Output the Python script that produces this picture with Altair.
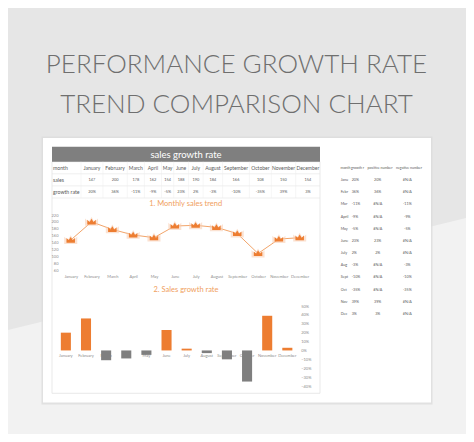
import altair as alt
import pandas as pd

# ---------------- data ----------------
months = ["January", "February", "March", "April", "May", "June", "July",
          "August", "September", "October", "November", "December"]
sales = [147, 200, 178, 162, 154, 188, 190, 184, 166, 108, 150, 154]
growth = [0.20, 0.36, -0.11, -0.09, -0.05, 0.23, 0.02, -0.03, -0.10, -0.35, 0.39, 0.03]
sales_ticks = [60, 80, 100, 120, 140, 160, 180, 200, 220]
growth_ticks = [-0.4, -0.3, -0.2, -0.1, 0.0, 0.1, 0.2, 0.3, 0.4, 0.5]
row_labels = ["month", "sales", "growth rate"]
side_headers = ["month", "growth rate", "positive number", "negative number"]
title_lines = ["PERFORMANCE GROWTH RATE", "TREND COMPARISON CHART"]
table_title = "sales growth rate"
line_title = "1. Monthly sales trend"
bar_title = "2. Sales growth rate"

ORANGE = "#ed7d31"
LIGHT_ORANGE = "#f0a060"
GRAY = "#7f7f7f"
TXT = "#595959"
AX = "#8c8c8c"
FONT = "Lato"
W, H = 458, 426


def pct(v):
    return f"{round(v * 100)}%"


df = pd.DataFrame({"month": months, "sales": sales, "growth": growth})
df["gtxt"] = [pct(v) for v in growth]
df["pos"] = [pct(v) if v >= 0 else "#N/A" for v in growth]
df["neg"] = [pct(v) if v < 0 else "#N/A" for v in growth]

# top table: column widths sized to the month names (like auto-fit columns)
widths = [len(m) * 2.4 + 5 for m in months]
starts = [sum(widths[:i]) for i in range(len(months))]
total = sum(widths)
trows = []
for i, m in enumerate(months):
    c = starts[i] + widths[i] / 2
    trows.append({"row": "month", "c": c, "t": m})
    trows.append({"row": "sales", "c": c, "t": str(sales[i])})
    trows.append({"row": "growth rate", "c": c, "t": pct(growth[i])})
tbl = pd.DataFrame(trows)

one = pd.DataFrame({"k": [0]})


def box(x, x2, y, y2, **kw):
    return alt.Chart(one).mark_rect(**kw).encode(
        x=alt.value(x), x2=alt.value(x2), y=alt.value(y), y2=alt.value(y2))


def label(text, x, y, **kw):
    return alt.Chart(one).mark_text(text=text, font=FONT, **kw).encode(
        x=alt.value(x), y=alt.value(y))


# ---------------- background ----------------
bg = alt.Chart(pd.DataFrame({"bx": [0, W], "by": [322, 210]})).mark_area(
    color="#e6e6e6").encode(
    x=alt.X("bx:Q", scale=alt.Scale(domain=[0, W], range=[0, W]), axis=None),
    y=alt.Y("by:Q", scale=alt.Scale(domain=[0, H], range=[0, H]), axis=None),
    y2=alt.value(H))

shadow = box(33.5, 424.5, 128.5, 396.5, color="#dcdcdc", opacity=0.8)
card = box(35, 423, 130, 394.5, color="#ffffff")
inner = box(44, 312, 153.7, 385.3, fillOpacity=0, stroke="#e3e3e3", strokeWidth=0.8)

title1 = label(title_lines[0], 228.5, 65.3, fontSize=26, fontWeight=300,
               color="#6f6f6f", align="center", baseline="alphabetic")
title2 = label(title_lines[1], 228.5, 104.7, fontSize=26, fontWeight=300,
               color="#6f6f6f", align="center", baseline="alphabetic")

# ---------------- top table ----------------
header_bar = box(44, 312, 138.7, 153.7, color=GRAY)
header_txt = label(table_title, 178, 146.5, fontSize=9.5, color="#ffffff",
                   align="center", baseline="middle")

tx_scale = alt.Scale(domain=[0, total], range=[73, 312], nice=False, zero=False)
ty_scale = alt.Scale(type="band", domain=row_labels, range=[153.7, 190],
                     paddingInner=0, paddingOuter=0)

hlines = alt.Chart(pd.DataFrame({"row": row_labels})).mark_rule(
    color="#e4e4e4", strokeWidth=0.6).encode(
    y=alt.Y("row:N", scale=ty_scale, bandPosition=1, axis=None),
    x=alt.value(44), x2=alt.value(312))
vlines = alt.Chart(pd.DataFrame({"s": starts})).mark_rule(
    color="#ececec", strokeWidth=0.5).encode(
    x=alt.X("s:Q", scale=tx_scale, axis=None),
    y=alt.value(153.7), y2=alt.value(190))
row_txt = alt.Chart(pd.DataFrame({"row": row_labels})).mark_text(
    font=FONT, fontSize=5.2, color=TXT, align="left", baseline="middle").encode(
    y=alt.Y("row:N", scale=ty_scale, axis=None), x=alt.value(45), text="row:N")
tbl_head = alt.Chart(tbl[tbl.row == "month"]).mark_text(
    font=FONT, fontSize=5.0, color=TXT, baseline="middle").encode(
    x=alt.X("c:Q", scale=tx_scale, axis=None),
    y=alt.Y("row:N", scale=ty_scale, axis=None), text="t:N")
tbl_vals = alt.Chart(tbl[tbl.row != "month"]).mark_text(
    font=FONT, fontSize=3.9, color=TXT, baseline="middle").encode(
    x=alt.X("c:Q", scale=tx_scale, axis=None),
    y=alt.Y("row:N", scale=ty_scale, axis=None), text="t:N")

# ---------------- line chart ----------------
lx_scale = alt.Scale(type="point", domain=months, range=[52.3, 302.1], padding=0.5)
ly_scale = alt.Scale(domain=[60, 220], range=[262, 207], nice=False, zero=False)

line_t = label(line_title, 177.7, 196.3, fontSize=7.5, color=LIGHT_ORANGE,
               align="center", baseline="middle")
line = alt.Chart(df).mark_line(color="#f2a56b", strokeWidth=1).encode(
    x=alt.X("month:N", scale=lx_scale, axis=alt.Axis(
        orient="bottom", offset=-160, labelAngle=0, labelFontSize=4, labelColor=AX,
        labelFont=FONT, labelPadding=0, domain=False, ticks=False, grid=False,
        labelOverlap=False, title=None, zindex=1)),
    y=alt.Y("sales:Q", scale=ly_scale, axis=alt.Axis(
        orient="left", offset=-50, values=sales_ticks, labelFontSize=4, labelColor=AX,
        labelFont=FONT, labelPadding=0, domain=False, ticks=False, grid=False,
        labelOverlap=False, title=None, zindex=1)))
CROWN = "M-1,0.6L-1,-0.5L-0.45,0L0,-0.75L0.45,0L1,-0.5L1,0.6Z"
halo = alt.Chart(df).mark_point(shape=CROWN, filled=True, size=170,
                                color="#f8cbad", opacity=0.55).encode(
    x=alt.X("month:N", scale=lx_scale, axis=None),
    y=alt.Y("sales:Q", scale=ly_scale, axis=None))
crowns = alt.Chart(df).mark_point(shape=CROWN, filled=True, size=72,
                                  color=ORANGE, opacity=1).encode(
    x=alt.X("month:N", scale=lx_scale, axis=None),
    y=alt.Y("sales:Q", scale=ly_scale, axis=None))

# ---------------- bar chart ----------------
bx_scale = alt.Scale(type="band", domain=months, range=[47.8, 289.4],
                     paddingInner=0.5, paddingOuter=0.25)
by_scale = alt.Scale(domain=[-0.4, 0.5], range=[378, 298], nice=False)

bar_t = label(bar_title, 178, 282.3, fontSize=7.5, color=LIGHT_ORANGE,
              align="center", baseline="middle")
bar_lbl = alt.Chart(df).mark_text(font=FONT, fontSize=4, color=AX, dy=5.5,
                                  baseline="middle").encode(
    x=alt.X("month:N", scale=bx_scale, axis=None),
    y=alt.YDatum(0, scale=by_scale, axis=None),
    text="month:N")
bars = alt.Chart(df).mark_bar().encode(
    x=alt.X("month:N", scale=bx_scale, axis=None),
    y=alt.Y("growth:Q", scale=by_scale, axis=alt.Axis(
        orient="right", offset=-165.3, values=growth_ticks, format=".0%",
        labelFontSize=4, labelColor=AX, labelFont=FONT, labelPadding=0,
        domain=False, ticks=False, grid=False, labelOverlap=False,
        title=None, zindex=1)),
    y2=alt.datum(0),
    color=alt.condition("datum.growth >= 0", alt.value(ORANGE), alt.value(GRAY)))

# ---------------- side table ----------------
sy_scale = alt.Scale(type="point", domain=months, range=[172, 306], padding=0)
SFS = 3.7
HFS = 3.5


def side_col(field, x, align, **kw):
    return alt.Chart(df).mark_text(font=FONT, fontSize=SFS, color=TXT, align=align,
                                   baseline="middle", **kw).encode(
        x=alt.value(x), y=alt.Y("month:N", scale=sy_scale, axis=None),
        text=f"{field}:N")


side_h = [
    label(side_headers[0], 332.5, 159.7, fontSize=HFS, color=TXT, align="left",
          baseline="middle", limit=10, ellipsis=" "),
    label(side_headers[1], 343.0, 159.7, fontSize=HFS, color=TXT, align="left",
          baseline="middle", limit=14.5, ellipsis=" "),
    label(side_headers[2], 372.0, 159.7, fontSize=HFS, color=TXT, align="center",
          baseline="middle"),
    label(side_headers[3], 401.0, 159.7, fontSize=HFS, color=TXT, align="center",
          baseline="middle"),
]
side_cols = [
    side_col("month", 332.7, "left", limit=9, ellipsis=" "),
    side_col("gtxt", 343.7, "left"),
    side_col("pos", 369.7, "center"),
    side_col("neg", 399.3, "center"),
]

chart = alt.layer(
    bg, shadow, card, inner, title1, title2,
    header_bar, header_txt, hlines, vlines, row_txt, tbl_head, tbl_vals,
    line_t, line, halo, crowns,
    bar_t, bar_lbl, bars,
    *side_h, *side_cols,
).resolve_scale(x="independent", y="independent").resolve_axis(
    x="independent", y="independent"
).properties(
    width=W, height=H, padding=0, autosize="none", background="#f2f2f2"
).configure_view(strokeWidth=0)

chart.save("out.html", embed_options={"renderer": "svg", "actions": False})
